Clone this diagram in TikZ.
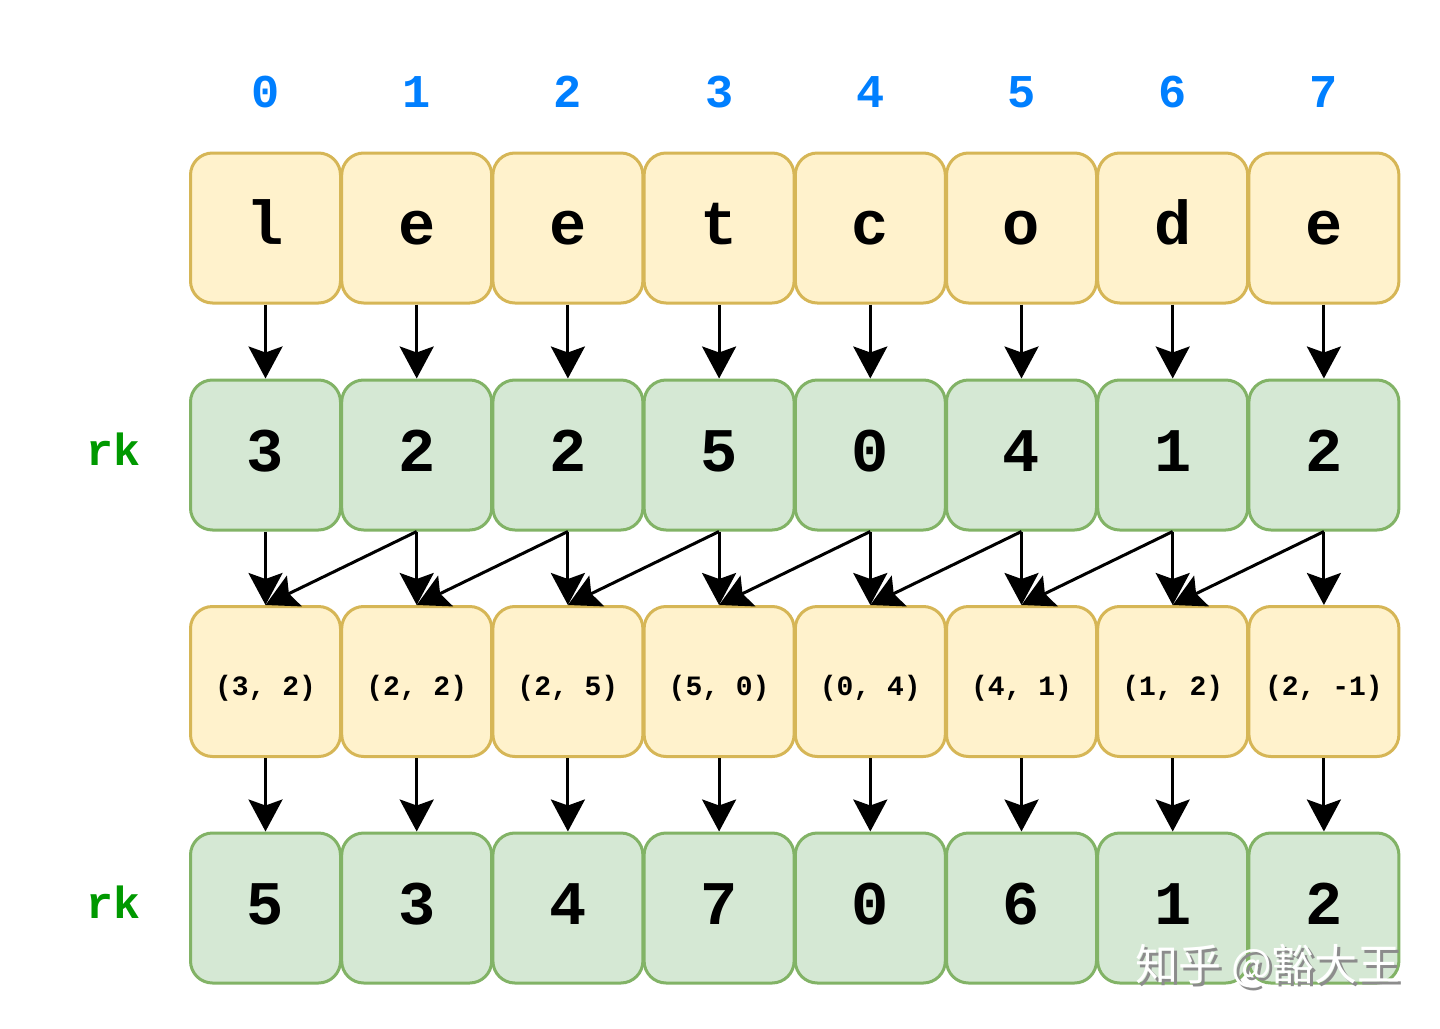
\documentclass[tikz,border=0pt]{standalone}
\usepackage{fontspec}
\setmonofont{Liberation Mono}
\newfontfamily\cjkfont{Noto Sans CJK SC}
\usetikzlibrary{arrows.meta}
\definecolor{yfill}{HTML}{FFF2CC}
\definecolor{ydraw}{HTML}{D6B656}
\definecolor{gfill}{HTML}{D5E8D4}
\definecolor{gdraw}{HTML}{82B366}
\definecolor{idxblue}{HTML}{007FFF}
\definecolor{rkgreen}{HTML}{009900}
\tikzset{
  cell/.style={rectangle, rounded corners=11pt, line width=1.5pt, minimum width=75pt, minimum height=75pt, inner sep=0pt, font=\ttfamily\bfseries\fontsize{31}{31}\selectfont, text height=20pt, text depth=4pt},
  ycell/.style={cell, fill=yfill, draw=ydraw},
  gcell/.style={cell, fill=gfill, draw=gdraw},
  pcell/.style={ycell, font=\ttfamily\bfseries\fontsize{14}{14}\selectfont, text height=15pt, text depth=1.5pt},
  idx/.style={anchor=base, text=idxblue, font=\ttfamily\bfseries\fontsize{23.5}{23.5}\selectfont},
  rk/.style={anchor=base, text=rkgreen, font=\ttfamily\bfseries\fontsize{22.5}{22.5}\selectfont},
  arr/.style={line width=1.5pt, -{Stealth[length=16pt,width=17pt,inset=3pt]}},
  wmark/.style={anchor=base west, inner sep=0pt, font=\cjkfont\fontsize{21.5}{21.5}\selectfont},
}
\begin{document}
\begin{tikzpicture}[x=0.5pt,y=-0.5pt]
\useasboundingbox (0,0) rectangle (1440,1028);
\fill[white] (0,0) rectangle (1440,1028);
% index labels
\foreach \i in {0,...,7} {
  \node[idx] (n\i) at (265.5+151.2*\i,107) {\i};
}
% row 1
\foreach \t [count=\k from 0] in {l,e,e,t,c,o,d,e} {
  \node[ycell] (a\k) at (265.5+151.2*\k,228) {\t};
}
% row 2
\foreach \t [count=\k from 0] in {3,2,2,5,0,4,1,2} {
  \node[gcell] (b\k) at (265.5+151.2*\k,455) {\t};
}
% row 3
\foreach \t [count=\k from 0] in {{(3, 2)},{(2, 2)},{(2, 5)},{(5, 0)},{(0, 4)},{(4, 1)},{(1, 2)},{(2, -1)}} {
  \node[pcell] (c\k) at (265.5+151.2*\k,681.5) {\t};
}
% row 4
\foreach \t [count=\k from 0] in {5,3,4,7,0,6,1,2} {
  \node[gcell] (d\k) at (265.5+151.2*\k,908) {\t};
}
% rk labels
\node[rk] (rk1) at (114,465) {rk};
\node[rk] (rk2) at (114,918) {rk};
% arrows
\foreach \k in {0,...,7} {
  \draw[arr] (a\k.south) -- (b\k.north);
  \draw[arr] (b\k.south) -- (c\k.north);
  \draw[arr] (c\k.south) -- (d\k.north);
}
\foreach \k [evaluate=\k as \j using int(\k+1)] in {0,...,6} {
  \draw[arr] (b\j.south) -- (c\k.north);
}
% watermark
\node[wmark, text=black!45] (wm0) at (1138,983) {知乎 @豁大王};
\node[wmark, text=white] (wm) at (1135,980) {知乎 @豁大王};
\end{tikzpicture}
\end{document}
